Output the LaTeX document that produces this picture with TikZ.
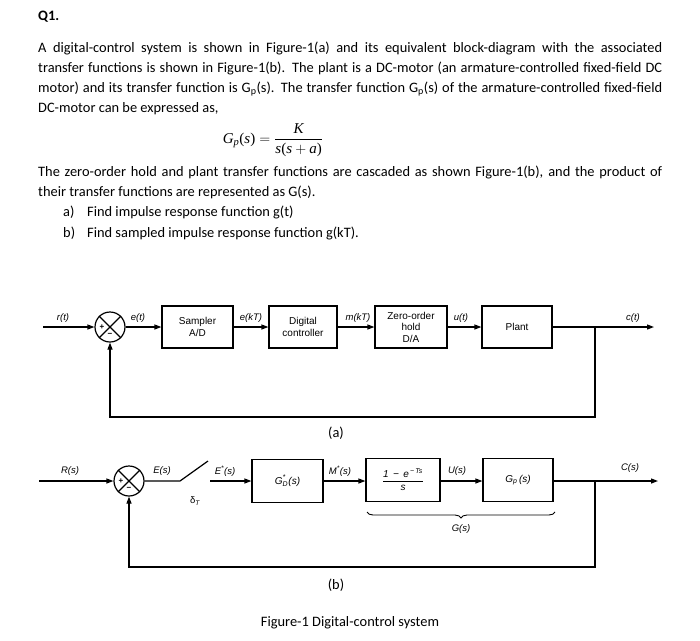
\documentclass[tikz,border=0pt]{standalone}
\usepackage{fontspec}
\usepackage{amsmath}
\setmainfont{Carlito}
\newfontfamily\dfont{Liberation Sans}
\newfontfamily\eqfont{Liberation Serif}
\usetikzlibrary{arrows.meta,decorations.pathreplacing}
\newcommand{\ei}[1]{\text{\eqfont\itshape #1}}
\newcommand{\eu}[1]{\text{\eqfont #1}}
\newcommand{\jline}[1]{\makebox[624pt][s]{#1}}
\begin{document}
\begin{tikzpicture}[x=1pt,y=-1pt,
  txt/.style={font=\fontsize{14.4}{20}\selectfont,inner sep=0,anchor=base west},
  ctr/.style={font=\fontsize{14.4}{20}\selectfont,inner sep=0,anchor=base},
  blk/.style={draw,line width=1.2pt,inner sep=0,font=\dfont\fontsize{10}{11.5}\selectfont,align=center},
  lab/.style={inner sep=0,font=\dfont\fontsize{9.5}{10}\selectfont\itshape},
  sgn/.style={inner sep=0,font=\dfont\fontsize{8}{8}\selectfont\bfseries},
  wire/.style={line width=1.2pt},
  arr/.style={wire,-{Triangle[length=7pt,width=5pt]}},
  sumc/.style={draw,circle,line width=1.2pt,minimum size=30pt,inner sep=0}]
\useasboundingbox (0,0) rectangle (700,640);

% ---------- text ----------
\node[txt] (q1) at (38,20) {\textbf{Q1.}};
\node[txt] (p1) at (38,52) {\jline{A digital-control system is shown in Figure-1(a) and its equivalent block-diagram with the associated}};
\node[txt] (p2) at (38,72) {\jline{transfer functions is shown in Figure-1(b). The plant is a DC-motor (an armature-controlled fixed-field DC}};
\node[txt] (p3) at (38,92) {\jline{motor) and its transfer function is G\textsubscript{p}(s). The transfer function G\textsubscript{p}(s) of the armature-controlled fixed-field}};
\node[txt] (p4) at (38,112) {DC-motor can be expressed as,};
\node[inner sep=0,font=\eqfont\fontsize{15}{15}\selectfont] (eq) at (273,140)
  {$\ei{G}_{\ei{p}}\eu{(}\ei{s}\eu{)} = \dfrac{\ei{K}}{\ei{s}\eu{(}\ei{s}+\ei{a}\eu{)}}$};
\node[txt] (q1) at (38,176) {\jline{The zero-order hold and plant transfer functions are cascaded as shown Figure-1(b), and the product of}};
\node[txt] (q2) at (38,196) {their transfer functions are represented as G(s).};
\node[txt] (ia) at (63,216) {a)};
\node[txt] (ta) at (87,216) {Find impulse response function g(t)};
\node[txt] (ib) at (63,237) {b)};
\node[txt] (tb) at (87,237) {Find sampled impulse response function g(kT).};

% ---------- figure (a) ----------
\coordinate (rin) at (43,327);
\node[sumc] (s1) at (110,327) {};
\draw[wire] (s1.north west) -- (s1.south east);
\draw[wire] (s1.north east) -- (s1.south west);
\node[sgn] (s1p) at (102,327) {+};
\node[sgn] (s1m) at (110,335) {\textminus};
\node[blk,minimum width=71pt,minimum height=42pt] (samp) at (197.5,327) {Sampler\\A/D};
\node[blk,minimum width=68pt,minimum height=42pt] (dig) at (303,327) {Digital\\controller};
\node[blk,minimum width=72pt,minimum height=42pt] (zoh) at (411,327) {Zero-order\\hold\\D/A};
\node[blk,minimum width=70pt,minimum height=42pt] (plant) at (517,327) {Plant};
\coordinate (br) at (595,327);
\coordinate (cout) at (654,327);
\coordinate (fb1) at (595,417);

\draw[arr] (rin) -- (s1.west);
\draw[arr] (s1.east) -- (samp.west);
\draw[arr] (samp.east) -- (dig.west);
\draw[arr] (dig.east) -- (zoh.west);
\draw[arr] (zoh.east) -- (plant.west);
\draw[arr] (plant.east) -- (cout);
\draw[arr] (br) -- (fb1) -| (s1.south);

\node[lab] (lr) at (63,318) {r(t)};
\node[lab] (le) at (138,318) {e(t)};
\node[lab] (lek) at (251,318) {e(kT)};
\node[lab] (lm) at (358,318) {m(kT)};
\node[lab] (lu) at (461,318) {u(t)};
\node[lab] (lc) at (633,318) {c(t)};
\node[ctr] (capa) at (336,437) {(a)};

% ---------- figure (b) ----------
\coordinate (rin2) at (39,481);
\node[sumc] (s2) at (129,481) {};
\draw[wire] (s2.north west) -- (s2.south east);
\draw[wire] (s2.north east) -- (s2.south west);
\node[sgn] (s2p) at (121,481) {+};
\node[sgn] (s2m) at (129,489) {\textminus};
\coordinate (sw1) at (180,481);
\coordinate (sw2) at (208,461);
\coordinate (sw3) at (210,481);
\node[blk,minimum width=71pt,minimum height=43pt] (gd) at (287.5,481) {\itshape G\raisebox{-2.5pt}{\fontsize{7}{7}\selectfont D}\kern-5pt\raisebox{4.5pt}{\fontsize{7}{7}\selectfont *}\kern3pt(s)};
\node[blk,minimum width=74pt,minimum height=43pt] (zoh2) at (403,480) {$\dfrac{\text{\itshape 1 \,\textminus\, e\textsuperscript{\,\textminus\,Ts}}}{\text{\itshape s}}$};
\node[blk,minimum width=70pt,minimum height=43pt] (gp) at (518,480) {\itshape G\textsubscript{p}\,(s)};
\coordinate (br2) at (595,481);
\coordinate (cout2) at (658,481);
\coordinate (fb2) at (595,567);

\draw[arr] (rin2) -- (s2.west);
\draw[wire] (s2.east) -- (sw1) -- (sw2);
\draw[arr] (sw3) -- (gd.west);
\draw[arr] (gd.east) -- (zoh2.west |- gd.east);
\draw[arr] (zoh2.east |- gd.east) -- (gp.west |- gd.east);
\draw[arr] (gp.east |- gd.east) -- (cout2);
\draw[arr] (br2) -- (fb2) -| (s2.south);

\coordinate (bra) at (367,512);
\coordinate (brb) at (555,512);
\draw[line width=0.9pt,decorate,decoration={brace,mirror,amplitude=6pt}] (bra) -- (brb);

\node[lab] (lR) at (70,471) {R(s)};
\node[lab] (lE) at (162,471) {E(s)};
\node[lab] (lds) at (195,501) {\upshape δ\textsubscript{\itshape T}};
\node[lab] (lEs) at (225,471) {E\textsuperscript{*}(s)};
\node[lab] (lMs) at (340,471) {M\textsuperscript{*}(s)};
\node[lab] (lU) at (457,471) {U(s)};
\node[lab] (lC) at (630,468) {C(s)};
\node[lab] (lG) at (461,529) {G(s)};
\node[ctr] (capb) at (336,589) {(b)};
\node[ctr] (cap) at (350,626) {Figure-1 Digital-control system};
\end{tikzpicture}
\end{document}
